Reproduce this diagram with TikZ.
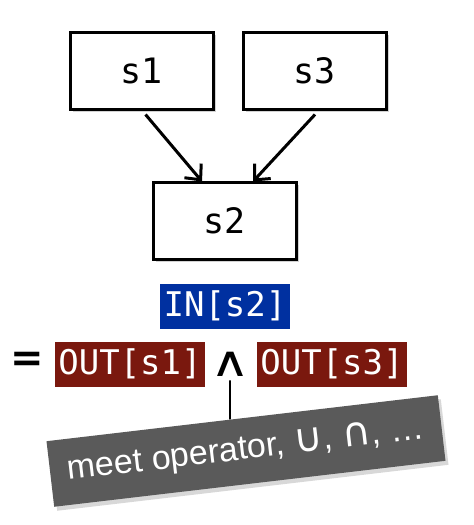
\documentclass[tikz,border=0pt]{standalone}
\usepackage{fontspec}
\usepackage{graphicx}
\setmainfont{Liberation Sans}
\newfontfamily\monof{DejaVu Sans Mono}
\newfontfamily\symf{DejaVu Sans}
\usetikzlibrary{arrows.meta,shadows}
\definecolor{inblue}{RGB}{0,48,160}
\definecolor{outred}{RGB}{122,24,14}
\definecolor{bangray}{RGB}{90,90,90}
\begin{document}
\begin{tikzpicture}[x=1pt,y=-1pt,
  stmt/.style={draw=black,line width=3pt,fill=white,minimum width=143pt,minimum height=77pt,inner sep=0pt,
    font=\monof\fontsize{35}{38}\selectfont,
    drop shadow={shadow xshift=2.5pt,shadow yshift=-2.5pt,opacity=0.35}},
  flow/.style={line width=3pt,-{Straight Barb[length=12pt,width=22pt,line width=3pt]}},
  setlbl/.style={inner sep=0pt,minimum height=45pt,text=white,font=\monof\fontsize{34}{38}\selectfont},
]
\useasboundingbox (0,0) rectangle (474,525);
\fill[white] (0,0) rectangle (474,525);

\node[stmt] (s1) at (141.5,70.5) {s1};
\node[stmt] (s3) at (314.5,70.5) {s3};
\node[stmt] (s2) at (224.5,220.5) {s2};

\draw[flow] ([xshift=4pt,yshift=-4pt]s1.south) -- ([xshift=-22.5pt,yshift=-1pt]s2.north);
\draw[flow] ([xshift=0.5pt,yshift=-4pt]s3.south) -- ([xshift=28.5pt,yshift=-1pt]s2.north);

\node[setlbl,fill=inblue,minimum width=130pt] (in) at (225,306) {IN[s2]};
\node[inner sep=0pt,font=\symf\bfseries\fontsize{40}{42}\selectfont] (eq) at (27,362) {=};
\node[setlbl,fill=outred,minimum width=150pt] (o1) at (130,364) {OUT[s1]};
\node[inner sep=2pt,font=\symf\fontsize{42}{44}\selectfont] (wedge) at (230,364) {\scalebox{1.3}[1]{∧}};
\node[setlbl,fill=outred,minimum width=150pt] (o3) at (332,364) {OUT[s3]};

\node[fill=bangray,rotate=6.7,minimum width=394pt,minimum height=66pt,inner sep=0pt,text=white,
  font=\fontsize{34}{38}\selectfont,
  drop shadow={shadow xshift=3pt,shadow yshift=-4pt,opacity=0.3}] (ban) at (246,451)
  {\raisebox{-6pt}{meet operator, {\symf\fontsize{40}{40}\selectfont ∪}, {\symf\fontsize{40}{40}\selectfont ∩}, …}};

\coordinate (wb) at ([yshift=-10pt]wedge.south);
\draw[line width=1.8pt] ([yshift=-2pt]wedge.south) -- (intersection of wedge.south--wb and ban.north west--ban.north east);
\end{tikzpicture}
\end{document}
